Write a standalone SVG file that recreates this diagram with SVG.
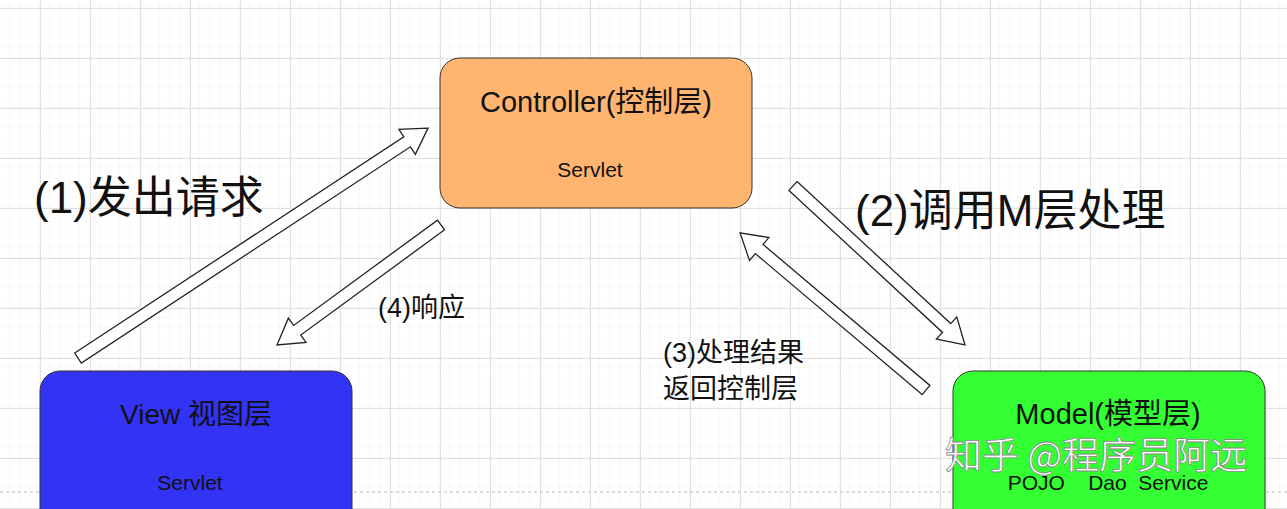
<svg xmlns="http://www.w3.org/2000/svg" width="1287" height="509" viewBox="0 0 1287 509">
<defs>
<pattern id="minor" width="10" height="10" patternUnits="userSpaceOnUse" x="0" y="-2"><path d="M10 0V10M0 10H10" fill="none" stroke="#f3f3f3" stroke-width="1"/></pattern>
<pattern id="major" width="50" height="50" patternUnits="userSpaceOnUse" x="40" y="8"><path d="M0.5 0V50M0 0.5H50" fill="none" stroke="#e0e0e0" stroke-width="1"/></pattern>
</defs>
<style>
.box{stroke:#333;stroke-width:1}
.t{font-family:"Liberation Sans","Noto Sans CJK SC",sans-serif;fill:#111}
.a{fill:#fff;stroke:#222;stroke-width:1.3;stroke-linejoin:miter}
</style>
<rect width="1287" height="509" fill="#fff"/>
<rect width="1287" height="509" fill="url(#minor)"/>
<rect width="1287" height="509" fill="url(#major)"/>
<line x1="0" y1="492" x2="1287" y2="492" stroke="#bbb" stroke-dasharray="3,3"/>
<g id="controller"><rect class="box" x="440" y="58" width="312" height="150" rx="20" fill="#FFB570"/>
<text class="t" x="596" y="112" font-size="29" text-anchor="middle">Controller(控制层)</text>
<text class="t" x="590" y="177" font-size="21" text-anchor="middle">Servlet</text></g>
<g id="view"><rect class="box" x="40" y="371" width="312" height="160" rx="20" fill="#3333F5"/>
<text class="t" x="196" y="424" font-size="28" text-anchor="middle">View 视图层</text>
<text class="t" x="190" y="490" font-size="21" text-anchor="middle">Servlet</text></g>
<g id="model"><rect class="box" x="953" y="371" width="312" height="160" rx="20" fill="#33FF33"/>
<text class="t" x="1108" y="424" font-size="29" text-anchor="middle">Model(模型层)</text>
<text class="t" x="1108" y="490" font-size="21" text-anchor="middle" xml:space="preserve">POJO    Dao  Service</text></g>
<g id="connectors">
<path class="a" transform="translate(78,358) rotate(-33.3)" d="M0,-6H393.8V-15L418.8,0L393.8,15V6H0Z"/>
<path class="a" transform="translate(441,225) rotate(143.8)" d="M0,-6H178.2V-15L203.2,0L178.2,15V6H0Z"/>
<path class="a" transform="translate(793,186) rotate(42.75)" d="M0,-6H209.2V-15L234.2,0L209.2,15V6H0Z"/>
<path class="a" transform="translate(926,390) rotate(220.2)" d="M0,-6H218.4V-15L243.4,0L218.4,15V6H0Z"/>
</g>
<text class="t" x="34" y="213" font-size="44">(1)发出请求</text>
<text class="t" x="855" y="226" font-size="44">(2)调用M层处理</text>
<text class="t" x="378" y="317" font-size="27">(4)响应</text>
<text class="t" x="663" y="362" font-size="27">(3)处理结果</text>
<text class="t" x="663" y="398" font-size="27">返回控制层</text>
<text x="945" y="469" font-size="37" font-family="Noto Sans CJK SC,sans-serif" fill="#fff" stroke="#888" stroke-width="0.8">知乎 @程序员阿远</text>
</svg>
